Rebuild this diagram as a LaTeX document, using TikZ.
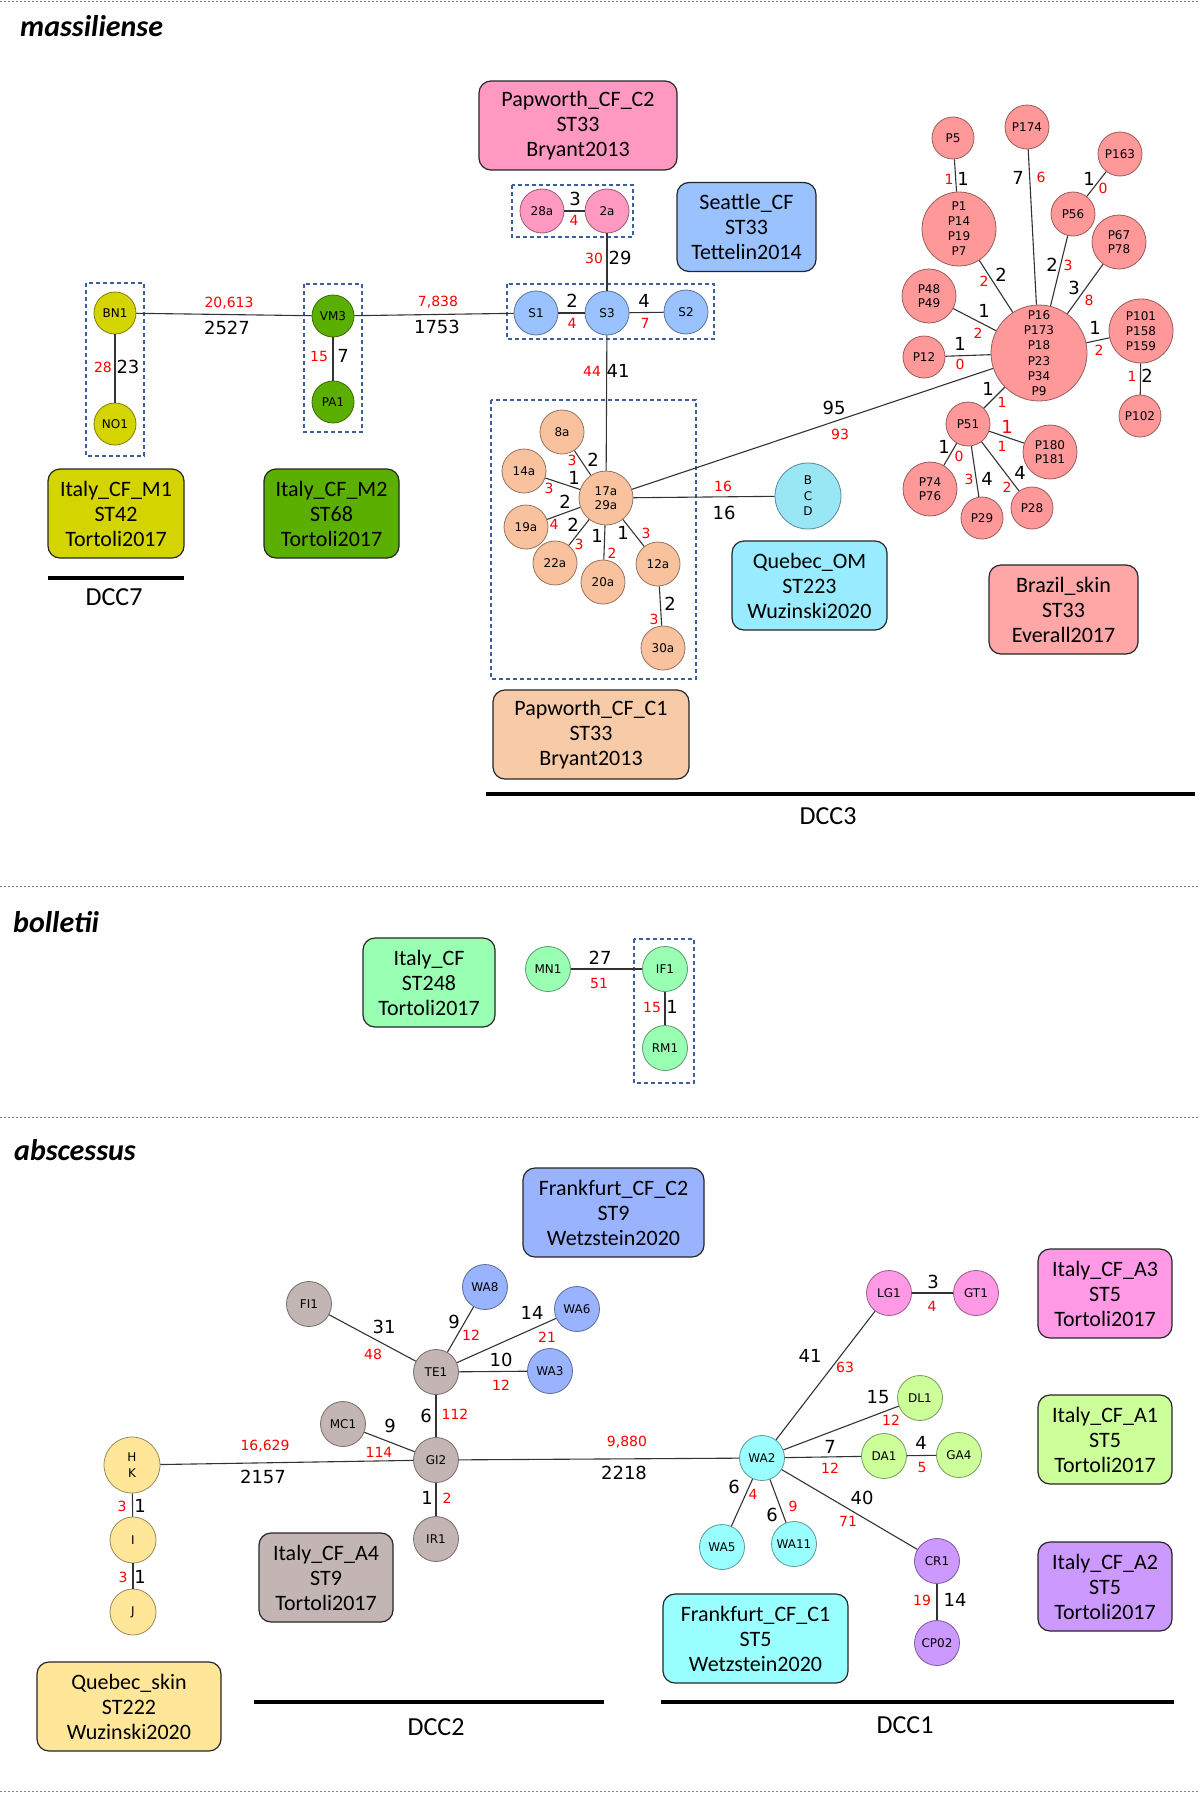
\documentclass[tikz,border=0pt]{standalone}
\usepackage{fontspec}
\setmainfont{Carlito}
\newfontfamily\vfont{DejaVu Sans}
\definecolor{cMa}{HTML}{D4D400}
\definecolor{cMb}{HTML}{5BAF00}
\definecolor{cS}{HTML}{99C2FF}
\definecolor{cCb}{HTML}{FF99C2}
\definecolor{cCan}{HTML}{F9C29E}
\definecolor{cCa}{HTML}{F7CBA8}
\definecolor{cOMn}{HTML}{99E6F5}
\definecolor{cOM}{HTML}{99EBFF}
\definecolor{cP}{HTML}{FF9999}
\definecolor{cBr}{HTML}{FFA6A6}
\definecolor{cBo}{HTML}{99FFB3}
\definecolor{cQs}{HTML}{FFE699}
\definecolor{cAd}{HTML}{C4B5B5}
\definecolor{cFb}{HTML}{99B3FF}
\definecolor{cFa}{HTML}{99FFFF}
\definecolor{cAc}{HTML}{FF99E6}
\definecolor{cAa}{HTML}{CCFF99}
\definecolor{cAb}{HTML}{CC99FF}
\definecolor{grpblue}{HTML}{3A5FA0}
\newcounter{lb}
\newcommand\lab[3]{\stepcounter{lb}\node[#1] (lab\thelb) at (#2) {#3};}
\begin{document}
\begin{tikzpicture}[x=1pt,y=-1pt,
  nd/.style={circle, fill=#1, draw=#1!60!black, line width=0.8pt, inner sep=0pt,
    font=\vfont\fontsize{12}{14}\selectfont, align=center, text=black},
  box/.style={rounded corners=12pt, fill=#1, draw=black!85, line width=1.2pt,
    minimum height=89pt, align=center, font=\fontsize{22}{25}\selectfont, inner sep=0pt},
  grp/.style={draw=grpblue, line width=1.5pt, dash pattern=on 4pt off 3pt},
  edge/.style={draw=black!80, line width=1.1pt},
  bl/.style={font=\vfont\fontsize{18}{20}\selectfont, inner sep=0pt},
  rd/.style={font=\vfont\fontsize{14}{16}\selectfont, text=red, inner sep=0pt},
  rdb/.style={bl, text=red},
  dcc/.style={line width=4pt, draw=black},
  dcct/.style={font=\fontsize{26}{28}\selectfont, inner sep=0pt},
  ttl/.style={font=\bfseries\itshape\fontsize{30}{32}\selectfont, anchor=base west, inner sep=0pt},
  sep/.style={draw=gray, line width=1pt, dash pattern=on 1.5pt off 2.5pt}]
\useasboundingbox[fill=white] (0,0) rectangle (1200,1793);

% separators
\draw[sep] (0,1.5) -- (1200,1.5);
\draw[sep] (0,886) -- (1200,886);
\draw[sep] (0,1117) -- (1200,1117);
\draw[sep] (0,1791.5) -- (1200,1791.5);

% titles
\node[ttl] (tMa) at (20,37) {massiliense};
\node[ttl] (tBo) at (13,932) {bolletii};
\node[ttl] (tAb) at (14,1160) {abscessus};

% dashed groups
\draw[grp] (86,283) rectangle (144,456);
\draw[grp] (304,284) rectangle (362,432);
\draw[grp] (512,185) rectangle (633,237);
\draw[grp] (507,284) rectangle (714,339);
\draw[grp] (491,400) rectangle (696,679);
\draw[grp] (634,939) rectangle (694,1083);

% ===== massiliense nodes
\node[nd=cMa, minimum size=42pt] (BN1) at (115,313) {BN1};
\node[nd=cMa, minimum size=42pt] (NO1) at (115,424) {NO1};
\node[nd=cMb, minimum size=42pt] (VM3) at (333,316) {VM3};
\node[nd=cMb, minimum size=42pt] (PA1) at (333,402) {PA1};
\node[nd=cS, minimum size=44pt] (S1) at (536,313) {S1};
\node[nd=cS, minimum size=44pt] (S3) at (607,313) {S3};
\node[nd=cS, minimum size=44pt] (S2) at (686,312) {S2};
\node[nd=cCb, minimum size=44pt] (n28a) at (542,211) {28a};
\node[nd=cCb, minimum size=44pt] (n2a) at (607,211) {2a};
\node[nd=cCan, minimum size=54pt] (n17a) at (606,498) {17a\\29a};
\node[nd=cCan, minimum size=44pt] (n8a) at (562,432) {8a};
\node[nd=cCan, minimum size=44pt] (n14a) at (524,471) {14a};
\node[nd=cCan, minimum size=44pt] (n19a) at (526,527) {19a};
\node[nd=cCan, minimum size=44pt] (n22a) at (555,563) {22a};
\node[nd=cCan, minimum size=44pt] (n20a) at (603,582) {20a};
\node[nd=cCan, minimum size=44pt] (n12a) at (658,564) {12a};
\node[nd=cCan, minimum size=44pt] (n30a) at (663,648) {30a};
\node[nd=cOMn, minimum size=66pt, font=\vfont\fontsize{12}{15.5}\selectfont] (BCD) at (808,496) {B\\C\\D};
\node[nd=cP, minimum size=96pt, font=\vfont\fontsize{12}{15.3}\selectfont] (P16) at (1039,353) {P16\\P173\\P18\\P23\\P34\\P9};
\node[nd=cP, minimum size=42pt] (P5) at (953,138) {P5};
\node[nd=cP, minimum size=44pt] (P174) at (1027,127) {P174};
\node[nd=cP, minimum size=44pt] (P163) at (1120,154) {P163};
\node[nd=cP, minimum size=74pt, font=\vfont\fontsize{12}{15}\selectfont] (P1) at (959,229) {P1\\P14\\P19\\P7};
\node[nd=cP, minimum size=44pt] (P56) at (1073,214) {P56};
\node[nd=cP, minimum size=54pt] (P67) at (1119,242) {P67\\P78};
\node[nd=cP, minimum size=54pt] (P48) at (929,296) {P48\\P49};
\node[nd=cP, minimum size=42pt] (P12) at (924,357) {P12};
\node[nd=cP, minimum size=64pt, font=\vfont\fontsize{12}{15}\selectfont] (P101) at (1141,331) {P101\\P158\\P159};
\node[nd=cP, minimum size=42pt] (P102) at (1140,416) {P102};
\node[nd=cP, minimum size=44pt] (P51) at (968,424) {P51};
\node[nd=cP, minimum size=54pt] (P180) at (1050,452) {P180\\P181};
\node[nd=cP, minimum size=54pt] (P74) at (930,489) {P74\\P76};
\node[nd=cP, minimum size=42pt] (P29) at (982,518) {P29};
\node[nd=cP, minimum size=42pt] (P28) at (1032,508) {P28};

% edges massiliense
\draw[edge] (BN1) -- (NO1);
\draw[edge] (BN1) -- (VM3);
\draw[edge] (VM3) -- (PA1);
\draw[edge] (VM3) -- (S1);
\draw[edge] (S1) -- (S3);
\draw[edge] (S3) -- (S2);
\draw[edge] (n28a) -- (n2a);
\draw[edge] (n2a) -- (S3);
\draw[edge] (S3) -- (n17a);
\foreach \t in {n8a,n14a,n19a,n22a,n20a,n12a} \draw[edge] (n17a) -- (\t);
\draw[edge] (n12a) -- (n30a);
\draw[edge] (n17a) -- (BCD);
\draw[edge] (n17a) -- (P16);
\foreach \t in {P1,P174,P56,P67,P48,P12,P101,P51} \draw[edge] (P16) -- (\t);
\draw[edge] (P1) -- (P5);
\draw[edge] (P56) -- (P163);
\draw[edge] (P101) -- (P102);
\foreach \t in {P180,P74,P29,P28} \draw[edge] (P51) -- (\t);

% labels massiliense
\lab{rd}{229,303}{20,613}
\lab{bl}{227,328}{2527}
\lab{rd}{103,367}{28}
\lab{bl}{128,367}{23}
\lab{rd}{319,356}{15}
\lab{bl}{343,356}{7}
\lab{rd}{438,302}{7,838}
\lab{bl}{437,327}{1753}
\lab{bl}{572,301}{2}
\lab{rd}{572,323}{4}
\lab{bl}{644,301}{4}
\lab{rd}{645,323}{7}
\lab{bl}{575,199}{3}
\lab{rd}{574,220}{4}
\lab{rd}{594,258}{30}
\lab{bl}{620,258}{29}
\lab{rd}{592,371}{44}
\lab{bl}{618,371}{41}
\lab{rd}{572,460}{3}
\lab{bl}{593,460}{2}
\lab{bl}{574,478}{1}
\lab{rd}{549,488}{3}
\lab{bl}{565,502}{2}
\lab{rd}{554,524}{4}
\lab{bl}{573,525}{2}
\lab{rd}{579,544}{3}
\lab{bl}{597,536}{1}
\lab{rd}{612,553}{2}
\lab{bl}{623,533}{1}
\lab{rd}{646,533}{3}
\lab{bl}{670,604}{2}
\lab{rd}{654,619}{3}
\lab{rd}{723,486}{16}
\lab{bl}{724,513}{16}
\lab{bl}{834,408}{95}
\lab{rd}{840,434}{93}
\lab{rd}{949,179}{1}
\lab{bl}{963,179}{1}
\lab{bl}{1018,178}{7}
\lab{rd}{1041,177}{6}
\lab{bl}{1089,179}{1}
\lab{rd}{1103,188}{0}
\lab{bl}{1052,265}{2}
\lab{rd}{1068,265}{3}
\lab{bl}{1074,288}{3}
\lab{rd}{1089,300}{8}
\lab{bl}{1001,275}{2}
\lab{rd}{984,281}{2}
\lab{bl}{984,311}{1}
\lab{rd}{978,333}{2}
\lab{bl}{960,344}{1}
\lab{rd}{960,364}{0}
\lab{bl}{1095,328}{1}
\lab{rd}{1099,350}{2}
\lab{rd}{1132,376}{1}
\lab{bl}{1147,376}{2}
\lab{bl}{988,389}{1}
\lab{rd}{1002,402}{1}
\lab{rdb}{1007,427}{1}
\lab{rd}{1002,446}{1}
\lab{bl}{944,447}{1}
\lab{rd}{959,456}{0}
\lab{rd}{969,479}{3}
\lab{bl}{987,479}{4}
\lab{rd}{1007,487}{2}
\lab{bl}{1020,473}{4}

% boxes massiliense
\node[box=cMa, minimum width=136pt] (bMa) at (116,513.5) {Italy\_CF\_M1\\ST42\\Tortoli2017};
\node[box=cMb, minimum width=135pt] (bMb) at (331.5,513.5) {Italy\_CF\_M2\\ST68\\Tortoli2017};
\node[box=cCb, minimum width=198pt] (bCb) at (578,125.5) {Papworth\_CF\_C2\\ST33\\Bryant2013};
\node[box=cS, minimum width=139pt] (bSe) at (746.5,227) {Seattle\_CF\\ST33\\Tettelin2014};
\node[box=cCa, minimum width=196pt] (bCa) at (591,734.5) {Papworth\_CF\_C1\\ST33\\Bryant2013};
\node[box=cOM, minimum width=155pt] (bOM) at (809.5,585.5) {Quebec\_OM\\ST223\\Wuzinski2020};
\node[box=cBr, minimum width=149pt] (bBr) at (1063.5,609.5) {Brazil\_skin\\ST33\\Everall2017};

% DCC bars
\draw[dcc] (48,578) -- (184,578);
\node[dcct] (dcc7) at (114,597) {DCC7};
\draw[dcc] (486,794) -- (1195,794);
\node[dcct] (dcc3) at (828,816) {DCC3};

% ===== bolletii
\node[box=cBo, minimum width=132pt] (bBo) at (429,982.5) {Italy\_CF\\ST248\\Tortoli2017};
\node[nd=cBo, minimum size=45pt] (MN1) at (548,969) {MN1};
\node[nd=cBo, minimum size=45pt] (IF1) at (665,969) {IF1};
\node[nd=cBo, minimum size=45pt] (RM1) at (665,1048) {RM1};
\draw[edge] (MN1) -- (IF1);
\draw[edge] (IF1) -- (RM1);
\lab{bl}{600,958}{27}
\lab{rd}{599,983}{51}
\lab{rd}{652,1007}{15}
\lab{bl}{672,1007}{1}

% ===== abscessus
\node[nd=cAd, minimum size=45pt] (FI1) at (309,1304) {FI1};
\node[nd=cFb, minimum size=45pt] (WA8) at (485,1287) {WA8};
\node[nd=cFb, minimum size=45pt] (WA6) at (577,1309) {WA6};
\node[nd=cAd, minimum size=45pt] (TE1) at (436,1372) {TE1};
\node[nd=cFb, minimum size=45pt] (WA3) at (550,1371) {WA3};
\node[nd=cAd, minimum size=45pt] (MC1) at (343,1424) {MC1};
\node[nd=cAd, minimum size=45pt] (GI2) at (436,1460) {GI2};
\node[nd=cAd, minimum size=45pt] (IR1) at (436,1539) {IR1};
\node[nd=cQs, minimum size=56pt, font=\vfont\fontsize{12}{16}\selectfont] (HK) at (132,1465) {H\\K};
\node[nd=cQs, minimum size=46pt] (I) at (133,1540) {I};
\node[nd=cQs, minimum size=46pt] (J) at (133,1612) {J};
\node[nd=cFa, minimum size=45pt] (WA2) at (762,1458) {WA2};
\node[nd=cAc, minimum size=45pt] (LG1) at (889,1293) {LG1};
\node[nd=cAc, minimum size=45pt] (GT1) at (976,1293) {GT1};
\node[nd=cAa, minimum size=45pt] (DL1) at (920,1398) {DL1};
\node[nd=cAa, minimum size=45pt] (DA1) at (884,1456) {DA1};
\node[nd=cAa, minimum size=45pt] (GA4) at (959,1455) {GA4};
\node[nd=cFa, minimum size=45pt] (WA5) at (722,1547) {WA5};
\node[nd=cFa, minimum size=45pt] (WA11) at (794,1544) {WA11};
\node[nd=cAb, minimum size=45pt] (CR1) at (937,1561) {CR1};
\node[nd=cAb, minimum size=45pt] (CP02) at (937,1643) {CP02};

\draw[edge] (HK) -- (I);
\draw[edge] (I) -- (J);
\draw[edge] (HK) -- (GI2);
\draw[edge] (GI2) -- (MC1);
\draw[edge] (GI2) -- (TE1);
\draw[edge] (GI2) -- (IR1);
\foreach \t in {FI1,WA8,WA6,WA3} \draw[edge] (TE1) -- (\t);
\draw[edge] (GI2) -- (WA2);
\foreach \t in {LG1,DL1,DA1,WA5,WA11,CR1} \draw[edge] (WA2) -- (\t);
\draw[edge] (LG1) -- (GT1);
\draw[edge] (DA1) -- (GA4);
\draw[edge] (CR1) -- (CP02);

\lab{bl}{384,1327}{31}
\lab{rd}{373,1354}{48}
\lab{bl}{454,1322}{9}
\lab{rd}{471,1335}{12}
\lab{bl}{532,1313}{14}
\lab{rd}{547,1337}{21}
\lab{bl}{501,1360}{10}
\lab{rd}{501,1385}{12}
\lab{bl}{426,1416}{6}
\lab{rd}{455,1414}{112}
\lab{bl}{390,1426}{9}
\lab{rd}{379,1452}{114}
\lab{rd}{265,1446}{16,629}
\lab{bl}{263,1477}{2157}
\lab{rd}{627,1442}{9,880}
\lab{bl}{624,1473}{2218}
\lab{bl}{427,1498}{1}
\lab{rd}{447,1498}{2}
\lab{rd}{122,1506}{3}
\lab{bl}{140,1506}{1}
\lab{rd}{123,1577}{3}
\lab{bl}{140,1577}{1}
\lab{bl}{933,1282}{3}
\lab{rd}{932,1306}{4}
\lab{bl}{810,1356}{41}
\lab{rd}{845,1367}{63}
\lab{bl}{878,1397}{15}
\lab{rd}{891,1420}{12}
\lab{bl}{830,1447}{7}
\lab{rd}{830,1468}{12}
\lab{bl}{921,1443}{4}
\lab{rd}{922,1467}{5}
\lab{bl}{734,1487}{6}
\lab{rd}{753,1494}{4}
\lab{bl}{772,1515}{6}
\lab{rd}{793,1506}{9}
\lab{bl}{862,1498}{40}
\lab{rd}{848,1521}{71}
\lab{rd}{922,1600}{19}
\lab{bl}{955,1600}{14}

\node[box=cFb, minimum width=181pt] (bFb) at (613.5,1212.5) {Frankfurt\_CF\_C2\\ST9\\Wetzstein2020};
\node[box=cAc, minimum width=134pt] (bAc) at (1105,1293.5) {Italy\_CF\_A3\\ST5\\Tortoli2017};
\node[box=cAa, minimum width=134pt] (bAa) at (1105,1439.5) {Italy\_CF\_A1\\ST5\\Tortoli2017};
\node[box=cAb, minimum width=134pt] (bAb) at (1105,1586.5) {Italy\_CF\_A2\\ST5\\Tortoli2017};
\node[box=cAd, minimum width=134pt] (bAd) at (326,1577.5) {Italy\_CF\_A4\\ST9\\Tortoli2017};
\node[box=cFa, minimum width=185pt] (bFa) at (755.5,1638.5) {Frankfurt\_CF\_C1\\ST5\\Wetzstein2020};
\node[box=cQs, minimum width=184pt] (bQs) at (129,1706.5) {Quebec\_skin\\ST222\\Wuzinski2020};

\draw[dcc] (254,1702) -- (604,1702);
\node[dcct] (dcc2) at (436,1727) {DCC2};
\draw[dcc] (661,1702) -- (1174,1702);
\node[dcct] (dcc1) at (905,1725) {DCC1};
\end{tikzpicture}
\end{document}
